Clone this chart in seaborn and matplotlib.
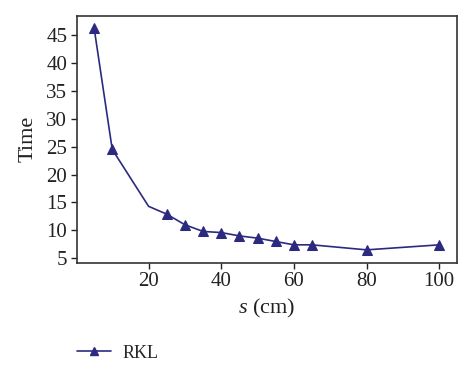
import matplotlib
matplotlib.use("Agg")
import matplotlib.pyplot as plt
import seaborn as sns
import pandas as pd
from matplotlib.lines import Line2D

s_cm = [5, 10, 20, 25, 30, 35, 40, 45, 50, 55, 60, 65, 80, 100]
time_vals = [46.3, 24.5, 14.3, 12.9, 11.0, 9.8, 9.6, 9.0, 8.6, 8.0, 7.4, 7.4, 6.5, 7.4]
series = ["RKL"] * len(s_cm)
x_ticks = [20, 40, 60, 80, 100]
y_ticks = [5, 10, 15, 20, 25, 30, 35, 40, 45]

df = pd.DataFrame({"s": s_cm, "Time": time_vals, "method": series})

sns.set_theme(style="white")
plt.rcParams["font.family"] = ["Liberation Serif", "DejaVu Serif"]
plt.rcParams["mathtext.fontset"] = "custom"
plt.rcParams["mathtext.it"] = "Liberation Serif:italic"
plt.rcParams["mathtext.rm"] = "Liberation Serif"

color = "#2c2a80"
fig = plt.figure(figsize=(4.74, 3.74), dpi=100)
ax = fig.add_axes([77/474, 1 - 262.7/374, (457-77)/474, (262.7-16)/374])

marker_idx = [i for i in range(len(s_cm)) if s_cm[i] != 20]
sns.lineplot(data=df, x="s", y="Time", hue="method", palette=[color], marker="^",
             markersize=6.5, markeredgecolor=color, linewidth=1.2, ax=ax,
             markevery=marker_idx, legend=False)

ax.set_xlim(0.3, 104.9)
ax.set_ylim(4.2, 48.4)
ax.set_xticks(x_ticks)
ax.set_yticks(y_ticks)
ax.tick_params(axis="both", labelsize=15, colors="#222222", length=4, width=1,
               direction="out", bottom=True, left=True, pad=3)
for sp in ax.spines.values():
    sp.set_visible(True)
    sp.set_color("#333333")
    sp.set_linewidth(1.2)
ax.set_xlabel(r"$s$ (cm)", fontsize=16, color="#222222", labelpad=4)
ax.set_ylabel("Time", fontsize=16, color="#222222", labelpad=6)

h = Line2D([0], [0], color=color, marker="^", markersize=6, linewidth=1.2)
fig.legend([h], ["RKL"], loc="center left", bbox_to_anchor=(61/474, 1 - 353/374),
           frameon=False, fontsize=13, handlelength=1.85, handletextpad=0.66)

fig.savefig("out.png", dpi=100)
